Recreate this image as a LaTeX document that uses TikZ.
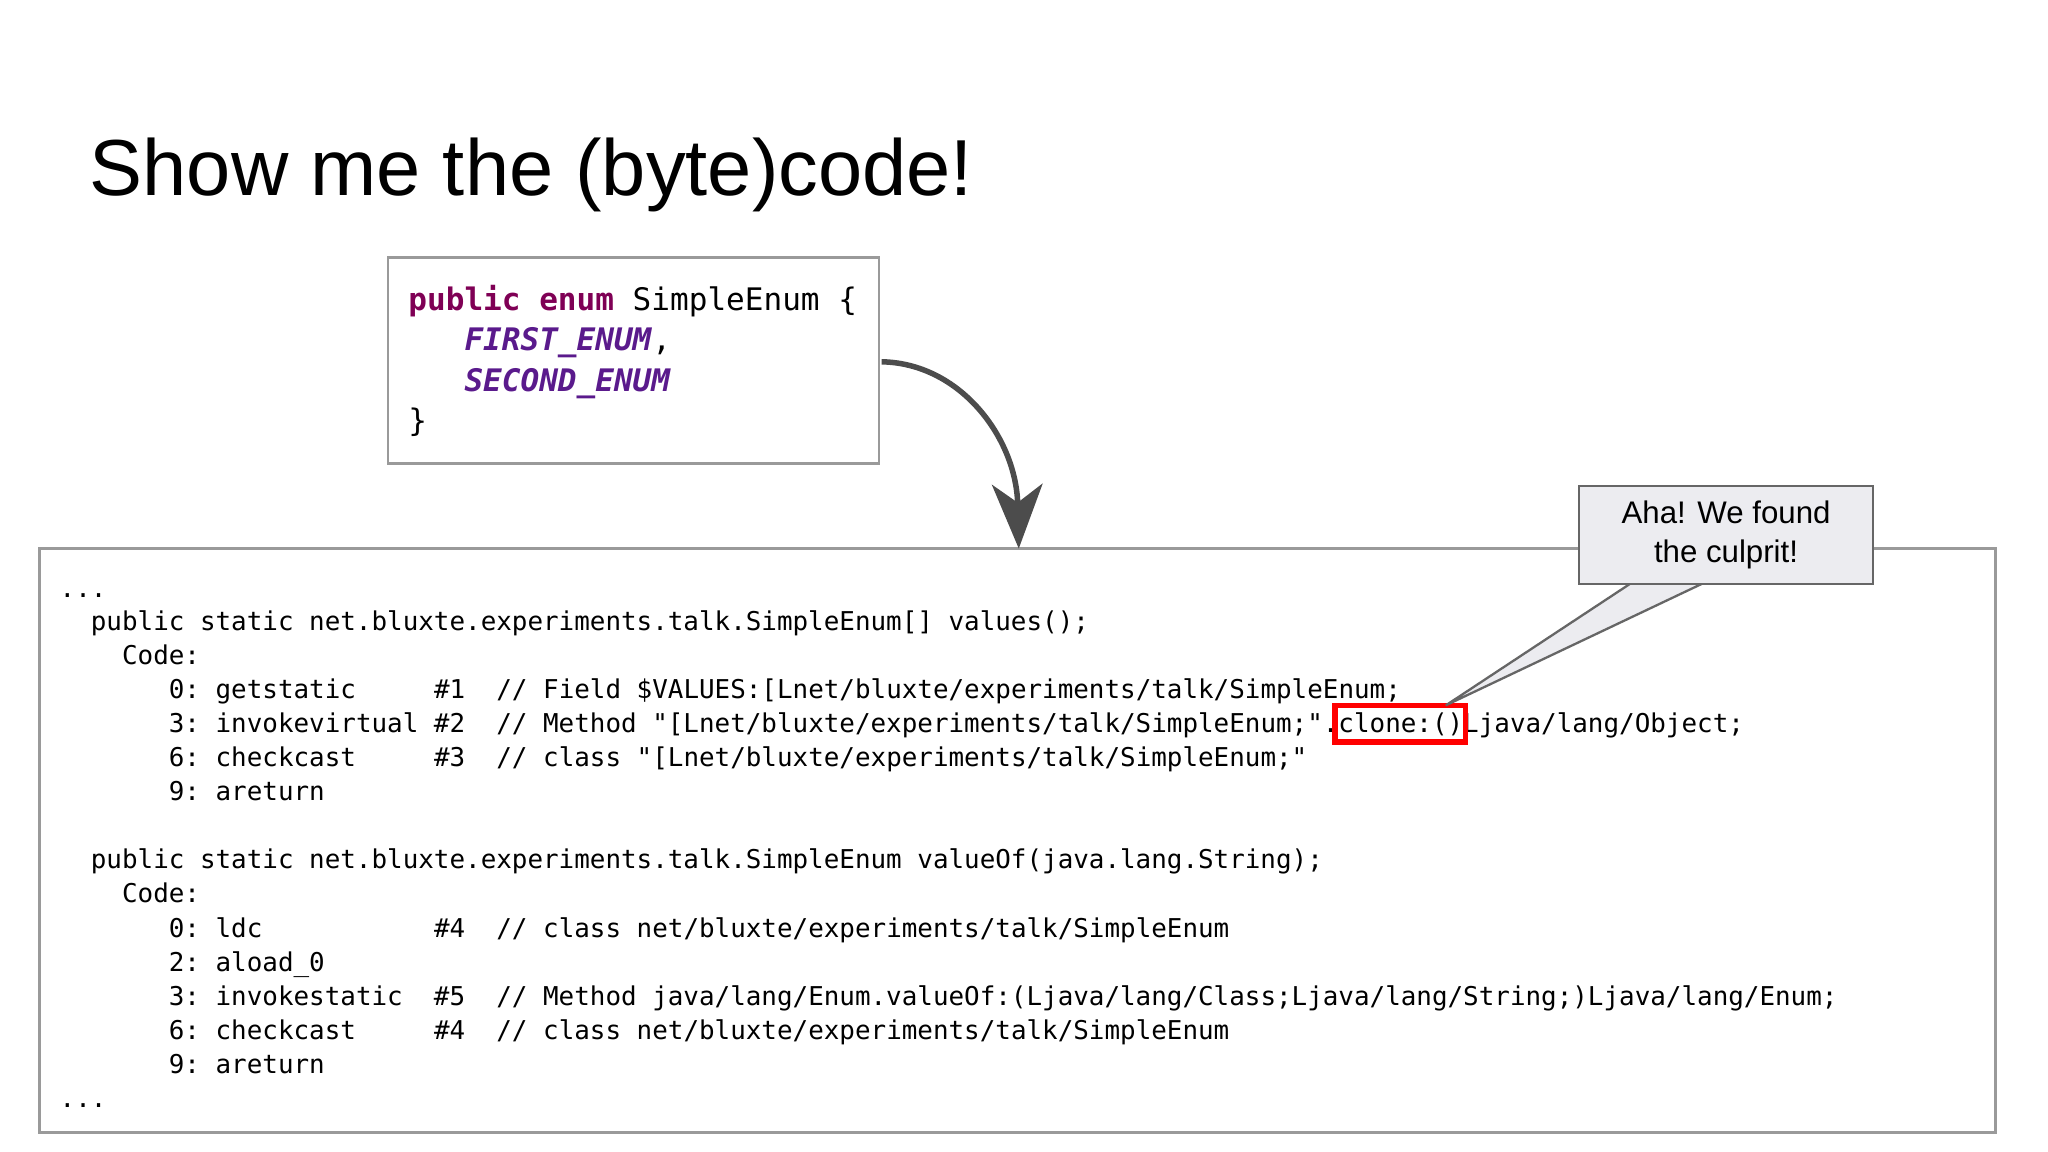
\documentclass[tikz,border=0pt]{standalone}
\usepackage{fontspec}
\setmainfont{Liberation Sans}
\setmonofont{DejaVu Sans Mono}
\usetikzlibrary{arrows.meta}
\definecolor{kw}{HTML}{7F0055}
\definecolor{fld}{HTML}{5A1A8C}
\definecolor{boxgray}{HTML}{9A9A9A}
\definecolor{callfill}{HTML}{ECECF0}
\begin{document}
\begin{tikzpicture}[x=0.01cm,y=-0.01cm,
  code/.style={anchor=west,inner sep=0,font=\fontsize{5.64}{7}\ttfamily,text height=0.8em,text depth=0.25em},
  src/.style={anchor=west,inner sep=0,font=\fontsize{6.76}{8}\ttfamily,text height=0.8em,text depth=0.25em},
  frame/.style={draw=boxgray,line width=0.6pt}]
\useasboundingbox (0,0) rectangle (1568,882);
\node[anchor=base west,inner sep=0,font=\fontsize{17.3}{20}\selectfont] (title) at (68,150) {Show me the (byte)code!};
% source box
\draw[frame] (297,197) rectangle (673,355);
\coordinate (srcout) at (675,277);
\node[src] (s1) at (312,228) {\textcolor{kw}{\textbf{public}} \textcolor{kw}{\textbf{enum}} SimpleEnum \{};
\node[src] (s2) at (312,259) {\phantom{pub}\textcolor{fld}{\textbf{\textit{FIRST\_ENUM}}},};
\node[src] (s3) at (312,290) {\phantom{pub}\textcolor{fld}{\textbf{\textit{SECOND\_ENUM}}}};
\node[src] (s4) at (312,321) {\}};
% bytecode box
\draw[frame] (30,420) rectangle (1528,867);
\coordinate (boxtop) at (780,420);
\draw[line width=1.2pt,draw=black!70,-{Stealth[length=14pt,width=11pt,inset=4pt]}] (srcout) .. controls (735,278) and (778,335) .. (boxtop);
\foreach \t/\y in {
 {...}/448,
 {\ \ public static net.bluxte.experiments.talk.SimpleEnum[] values();}/473,
 {\ \ \ \ Code:}/499,
 {\ \ \ \ \ \ \ 0: getstatic\ \ \ \ \ \#1\ \ // Field \$VALUES:[Lnet/bluxte/experiments/talk/SimpleEnum;}/525,
 {\ \ \ \ \ \ \ 3: invokevirtual \#2\ \ // Method "[Lnet/bluxte/experiments/talk/SimpleEnum;".clone:()Ljava/lang/Object;}/551,
 {\ \ \ \ \ \ \ 6: checkcast\ \ \ \ \ \#3\ \ // class "[Lnet/bluxte/experiments/talk/SimpleEnum;"}/577,
 {\ \ \ \ \ \ \ 9: areturn}/603,
 {\ \ public static net.bluxte.experiments.talk.SimpleEnum valueOf(java.lang.String);}/655,
 {\ \ \ \ Code:}/681,
 {\ \ \ \ \ \ \ 0: ldc\ \ \ \ \ \ \ \ \ \ \ \#4\ \ // class net/bluxte/experiments/talk/SimpleEnum}/708,
 {\ \ \ \ \ \ \ 2: aload\_0}/734,
 {\ \ \ \ \ \ \ 3: invokestatic\ \ \#5\ \ // Method java/lang/Enum.valueOf:(Ljava/lang/Class;Ljava/lang/String;)Ljava/lang/Enum;}/760,
 {\ \ \ \ \ \ \ 6: checkcast\ \ \ \ \ \#4\ \ // class net/bluxte/experiments/talk/SimpleEnum}/786,
 {\ \ \ \ \ \ \ 9: areturn}/812,
 {...}/838}
 \node[code] (l\y) at (45,\y) {\t};
% red highlight
\node[draw=red,line width=1.2pt,minimum width=1cm,minimum height=0.28cm,inner sep=0] (hl) at (1072,554) {};
% callout
\coordinate (tip) at (1107,540);
\coordinate (pa) at (1248,447);
\coordinate (pb) at (1303,447);
\draw[draw=black!60,fill=callfill,line width=0.5pt] (pa) -- (tip) -- (pb);
\node[draw=black!60,fill=callfill,line width=0.5pt,minimum width=2.25cm,minimum height=0.75cm,inner sep=0,align=center,font=\fontsize{6.8}{8.6}\selectfont] (call) at (1321.5,409.5) {Aha! We found\\the culprit!};
\end{tikzpicture}
\end{document}
